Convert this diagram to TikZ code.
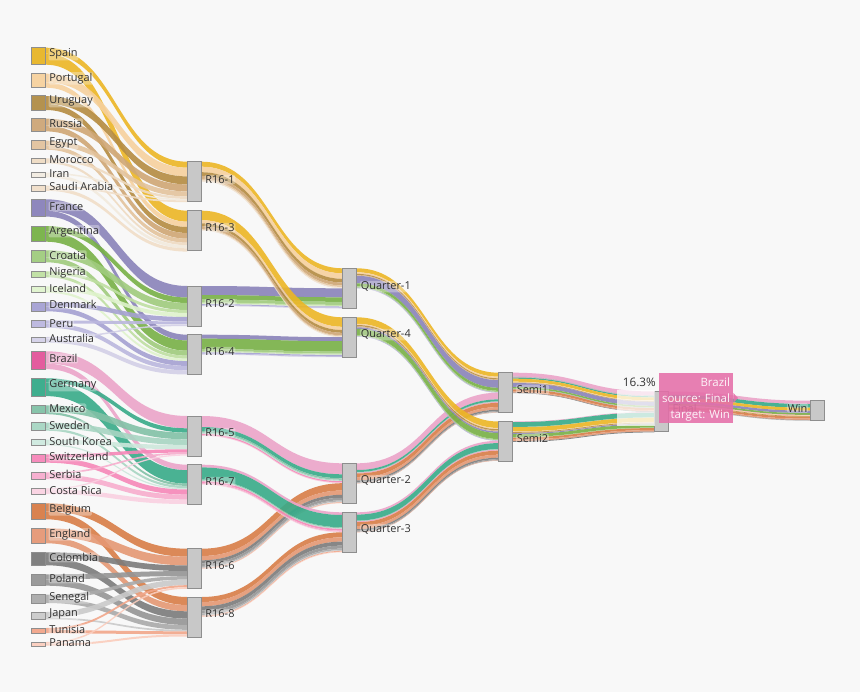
\documentclass[tikz,border=0pt]{standalone}
\usepackage{fontspec}
\setmainfont{Open Sans}
\usetikzlibrary{calc}
\pgfdeclarelayer{ribbons}
\pgfsetlayers{ribbons,main}
\definecolor{pagebg}{HTML}{F8F8F8}
\definecolor{stagegray}{HTML}{C8C8C8}
\definecolor{stageedge}{HTML}{8E8E8E}
\definecolor{inktext}{HTML}{303030}
\definecolor{tipfill}{HTML}{E56FA9}
\newcommand\teamcol[3]{\definecolor{c#1}{HTML}{#2}\definecolor{r#1}{HTML}{#3}}
\teamcol{sp}{E8B830}{ECB625}\teamcol{pt}{F6D3A2}{F6D19E}\teamcol{uy}{B4924F}{B58C42}\teamcol{ru}{CFAA7E}{CFA775}
\teamcol{eg}{E3C5A2}{E3C39C}\teamcol{ma}{EFDDC6}{EFDBC2}\teamcol{ir}{F2ECE2}{F2EADD}\teamcol{sa}{F1E0CC}{F1DEC8}
\teamcol{fr}{8E87BD}{8A83B9}\teamcol{ar}{7DB54F}{78B146}\teamcol{hr}{A4CE84}{A0CB7E}\teamcol{ng}{C2E1A6}{BFDFA2}
\teamcol{is}{E1F4D0}{DFF3CC}\teamcol{dk}{A9A5D5}{A5A1D2}\teamcol{pe}{BEBAE0}{BBB7DE}\teamcol{au}{D6D3E9}{D3D0E7}
\teamcol{br}{E35C9E}{EBA4C9}\teamcol{de}{3FAE8E}{38AB89}\teamcol{mx}{87C4AA}{82C1A6}\teamcol{se}{ABD7C5}{A8D5C2}
\teamcol{kr}{D0EAE0}{CDE8DC}\teamcol{ch}{F68CBC}{F687B8}\teamcol{rs}{F7B0D0}{F7ADCD}\teamcol{cr}{FAD4E3}{FAD1E1}
\teamcol{be}{D9824F}{D87D47}\teamcol{en}{E69C7C}{E59874}\teamcol{co}{808080}{7B7B7B}\teamcol{pl}{9A9A9A}{959595}
\teamcol{sn}{AEAEAE}{AAAAAA}\teamcol{jp}{CDCDCD}{CACACA}\teamcol{tn}{F2A98F}{F2A68A}\teamcol{pa}{FBD0C1}{FBCDBD}
\tikzset{
  teambox/.style={draw=stageedge,line width=.75pt,inner sep=0pt,outer sep=0pt,minimum width=10.9pt,anchor=north},
  stagebox/.style={draw=stageedge,fill=stagegray,line width=.75pt,inner sep=0pt,outer sep=0pt,minimum width=10.5pt,anchor=north west},
  lbl/.style={anchor=west,inner sep=.6pt,text=inktext,font=\fontsize{8.2}{10}\selectfont,fill=pagebg,fill opacity=.35,text opacity=1,rounded corners=1pt},
  ribbon/.style={fill opacity=.9},
  tipbox/.style={fill=tipfill,fill opacity=.88,text opacity=1,text=white!92!tipfill,inner sep=0pt,outer sep=0pt,minimum width=56pt,minimum height=38pt,align=right,font=\fontsize{8.6}{12}\selectfont}
}
\newcommand\team[6]{% code, top, bottom, label, label y
  \node[teambox,fill=c#1,minimum height={(#3-#2)*.75pt}] (n#1) at (38.7,#2) {};
  \node[lbl] (l#1) at (#6,#5+1.3) {#4};}
\newcommand\stage[5]{% name, x, top, label, label y; the label starts right of the box
  \node[stagebox,minimum height=30pt] (n#1) at (#2,#3) {};
  \node[lbl] (l#1) at ($(n#1.north east)+(3,#5-#3+.6)$) {#4};}
\newcommand\rib[4]{% src, dst, colour, width
  \ifcsname so@#1\endcsname\else\expandafter\gdef\csname so@#1\endcsname{0}\fi
  \ifcsname ti@#2\endcsname\else\expandafter\gdef\csname ti@#2\endcsname{0}\fi
  \pgfmathsetmacro\sa{\csname so@#1\endcsname}
  \pgfmathsetmacro\ta{\csname ti@#2\endcsname}
  \pgfmathsetmacro\sb{\sa+#4}
  \pgfmathsetmacro\tb{\ta+#4}
  \expandafter\xdef\csname so@#1\endcsname{\sb}
  \expandafter\xdef\csname ti@#2\endcsname{\tb}
  \coordinate (s0) at ($(n#1.north east)+(0,\sa)$);
  \coordinate (s1) at ($(n#1.north east)+(0,\sb)$);
  \coordinate (t0) at ($(n#2.north west)+(0,\ta)$);
  \coordinate (t1) at ($(n#2.north west)+(0,\tb)$);
  \coordinate (m) at ($(s0)!.5!(t0)$);
  \begin{pgfonlayer}{ribbons}
  \fill[ribbon,fill=r#3] (s0) .. controls (m |- s0) and (m |- t0) .. (t0) -- (t1)
     .. controls (m |- t1) and (m |- s1) .. (s1) -- cycle;
  \end{pgfonlayer}}
\newcommand\fan[3]{\foreach \cc/\ww in {#3} {\rib{#1}{#2}{\cc}{\ww}}}
\newcommand\teamto[3]{\rib{#1}{#2}{#1}{#3}}
\begin{document}
\begin{tikzpicture}[x=.75pt,y=-.75pt]
\useasboundingbox (0,0) rectangle (860,692);
\begin{pgfonlayer}{ribbons}\fill[pagebg] (0,0) rectangle (860,692);\end{pgfonlayer}
% teams
\team{sp}{47.7}{65}{Spain}{53}{48.3}
\team{pt}{73.7}{87.7}{Portugal}{77}{48.3}
\team{uy}{96}{110}{Uruguay}{100}{48.3}
\team{ru}{118.7}{131.3}{Russia}{122}{48.3}
\team{eg}{140.7}{149.7}{Egypt}{142}{48.3}
\team{ma}{158.3}{163.3}{Morocco}{158}{48.3}
\team{ir}{172.7}{177.3}{Iran}{172}{48.3}
\team{sa}{185.7}{191}{Saudi Arabia}{185}{48.3}
\team{fr}{199.3}{216.7}{France}{205}{48.3}
\team{ar}{226}{241.7}{Argentina}{230}{48.3}
\team{hr}{250.3}{262}{Croatia}{254}{48.3}
\team{ng}{271.3}{277.3}{Nigeria}{271}{48.3}
\team{is}{286.3}{292.7}{Iceland}{287}{48.3}
\team{dk}{302}{311.3}{Denmark}{303}{48.3}
\team{pe}{320.3}{327.7}{Peru}{322}{48.3}
\team{au}{337}{342.7}{Australia}{337}{48.3}
\team{br}{351.3}{369.3}{Brazil}{357}{48.3}
\team{de}{378.3}{396}{Germany}{384}{48.3}
\team{mx}{405.3}{413.7}{Mexico}{407}{48.3}
\team{se}{422.7}{430.7}{Sweden}{424}{48.3}
\team{kr}{439.7}{445.3}{South Korea}{440}{48.3}
\team{ch}{454.3}{462.7}{Switzerland}{455}{48.3}
\team{rs}{472.3}{479}{Serbia}{473}{48.3}
\team{cr}{488.3}{494}{Costa Rica}{489}{48.3}
\team{be}{503.3}{519.3}{Belgium}{508}{48.3}
\team{en}{528.3}{543.3}{England}{533}{48.3}
\team{co}{552.3}{565.3}{Colombia}{556}{48.3}
\team{pl}{574.3}{585.7}{Poland}{577}{48.3}
\team{sn}{594.7}{603}{Senegal}{596}{48.3}
\team{jp}{612}{619.3}{Japan}{613}{48.3}
\team{tn}{628}{633}{Tunisia}{628}{48.3}
\team{pa}{642}{646}{Panama}{641}{48.3}
% stages
\stage{a}{187.4}{161.7}{R16-1}{179}
\stage{c}{187.4}{210.7}{R16-3}{227}
\stage{b}{187.4}{286}{R16-2}{303}
\stage{d}{187.4}{334.7}{R16-4}{351}
\stage{e}{187.4}{416}{R16-5}{432}
\stage{g}{187.4}{464.7}{R16-7}{481}
\stage{f}{187.4}{548.7}{R16-6}{565}
\stage{h}{187.4}{597}{R16-8}{613}
\stage{qa}{342.7}{268.3}{Quarter-1}{286}
\stage{qd}{342.7}{317.3}{Quarter-4}{334}
\stage{qb}{342.7}{463.3}{Quarter-2}{480}
\stage{qc}{342.7}{512.3}{Quarter-3}{529}
\stage{sa1}{498.7}{372.7}{Semi1}{389}
\stage{sb2}{498.7}{421.5}{Semi2}{438}
\node[stagebox,minimum height=30pt] (nfin) at (654.4,391.5) {};
\node[stagebox,minimum height=15pt] (nwin) at (810,400.7) {};
\node[lbl,anchor=east] (lwin) at (808.5,408) {Win};
\node[lbl,fill opacity=0] (lfin) at (671.5,408) {Final};
% team -> round of 16
\foreach \tt/\x/\y in {sp/6/11,pt/8.7/5.3,uy/8/6,ru/7/5.7,eg/5/4,ma/2.5/2.5,ir/1.5/3.1,sa/1.8/3.3}
  {\teamto{\tt}{a}{\x}\teamto{\tt}{c}{\y}}
\foreach \tt/\x/\y in {fr/11.5/5.8,ar/5.5/10.2,hr/7/5,ng/3/3,is/4/2.4,dk/4.5/4.8,pe/3/4.4,au/1.5/4.2}
  {\teamto{\tt}{b}{\x}\teamto{\tt}{d}{\y}}
\foreach \tt/\x/\y in {br/12.3/5.5,de/4.3/13.5,mx/6.7/2.2,se/5.7/2.3,kr/4.3/1.3,ch/3.3/5.1,rs/1.7/5,cr/1.3/4.4}
  {\teamto{\tt}{e}{\x}\teamto{\tt}{g}{\y}}
\foreach \tt/\x/\y in {be/8/8,en/8.7/6.3,co/5.7/7.3,pl/5/6.4,sn/3.5/4.8,jp/5.6/1.7,tn/2/3,pa/1.6/2}
  {\teamto{\tt}{f}{\x}\teamto{\tt}{h}{\y}}
% round of 16 -> quarters
\fan{a}{qa}{sp/5,pt/5.5,uy/3.7,ru/3,eg/1.5,ma/.6,ir/.3,sa/.4}
\fan{b}{qa}{fr/9,ar/4.5,hr/3,ng/1,is/.7,dk/1,pe/.5,au/.3}
\fan{c}{qd}{sp/9.5,pt/3.2,uy/2.8,ru/2.6,eg/.9,ma/.4,ir/.2,sa/.3}
\fan{d}{qd}{fr/4,ar/10.4,hr/2,ng/1,is/.3,dk/1.2,pe/.7,au/.4}
\fan{e}{qb}{br/11,de/4,mx/1.5,se/1,kr/.4,ch/1.2,rs/.5,cr/.3}
\fan{f}{qb}{be/7.3,en/4.3,co/3,pl/2.5,sn/1.2,jp/.8,tn/.5,pa/.4}
\fan{g}{qc}{br/2.7,de/12.3,mx/.8,se/.6,kr/.2,ch/1.7,rs/1.2,cr/.5}
\fan{h}{qc}{be/5,en/4.3,co/4,pl/3,sn/1.5,jp/.8,tn/.8,pa/.6}
% quarters -> semis
\fan{qa}{sa1}{sp/4,pt/1.6,uy/1.1,ru/.6,eg/.2,fr/7.6,ar/3,hr/1.1,ng/.2,dk/.3,pe/.2,au/.1}
\fan{qb}{sa1}{br/6.7,de/2,mx/.5,se/.3,ch/.5,rs/.2,be/4.2,en/2.7,co/1.4,pl/.8,sn/.3,jp/.2,tn/.2}
\fan{qd}{sb2}{sp/6.5,pt/1.2,uy/1.2,ru/.8,eg/.3,fr/1.5,ar/6,hr/1,ng/.3,dk/.3,pe/.2}
\fan{qc}{sb2}{br/2.3,de/6,mx/.5,se/.3,ch/.5,rs/.3,be/4,en/3,co/1.5,pl/1,sn/.3,tn/.3}
% semis -> final -> win
\fan{sa1}{fin}{br/4,mx/.4,ch/.4,de/1.2,sp/3,pt/.8,uy/.5,fr/4,ar/1.6,hr/.4,dk/.3,be/2.2,en/1.2,co/.5}
\fan{sb2}{fin}{br/.6,de/4.8,mx/.3,sp/4.2,pt/.6,uy/.8,ru/.4,fr/.9,ar/3,hr/.5,be/2,en/1.5,co/.8}
\fan{fin}{win}{br/3.3,de/3.7,sp/3,fr/2.4,ar/1.8,ch/.4,pt/.8,uy/.6,be/2,en/1.3,co/.4,jp/.3}
% hover marks
\node[inner sep=0pt,outer sep=0pt,fill=white,fill opacity=.72,minimum width=28.2pt,minimum height=27pt,anchor=north west] (hover) at (617,390) {};
\node[anchor=east,inner sep=0pt,text=black!80,font=\fontsize{8.8}{10}\selectfont] (pct) at (656,382.5) {16.3\%};
\node[tipbox] (tip) at (696,398) {\rule{0pt}{9pt}Brazil\hspace{2.2pt}\\source: Final\hspace{2.2pt}\\target: Win\hspace{2.2pt}};
\fill[tipfill,fill opacity=.88] (tip.north east) ++(0,20.3) -- (738,398) -- ++(-4.7,5) -- cycle;
\end{tikzpicture}
\end{document}
